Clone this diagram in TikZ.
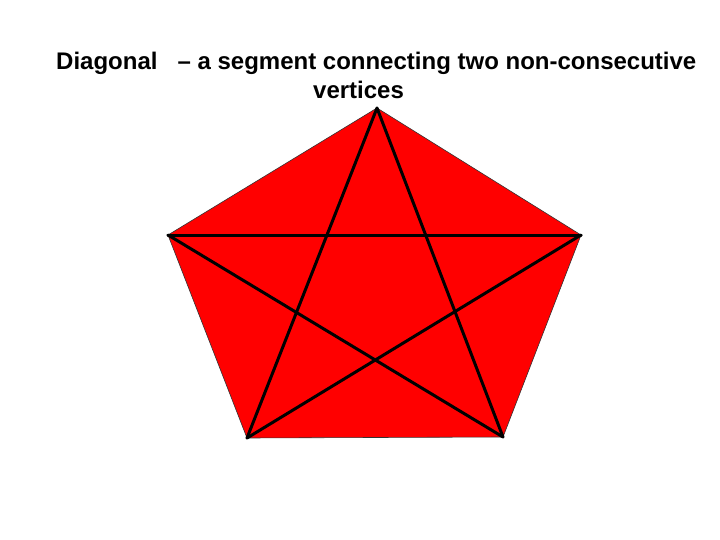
\documentclass[tikz,border=0pt]{standalone}
\usepackage{fontspec}
\setmainfont{Liberation Sans}
\begin{document}
\begin{tikzpicture}[x=1pt,y=-1pt,
  lbl/.style={inner sep=0pt,anchor=base west,font=\fontsize{24}{28}\selectfont\bfseries},
  edge/.style={draw=black!80,line width=0.6pt},
  diag/.style={draw=black,line width=3pt,line cap=round}]
\useasboundingbox (0,0) rectangle (720,540);
\coordinate (A) at (377,108);
\coordinate (B) at (581,235);
\coordinate (C) at (503,437);
\coordinate (D) at (247,438);
\coordinate (E) at (168,235);
\fill[red] (A) -- (B) -- (C) -- (D) -- (E) -- cycle;
\draw[edge] (A) -- (B) -- (C) -- (D) -- (E) -- cycle;
\draw[diag] (A) -- (C);
\draw[diag] (A) -- (D);
\draw[diag] (B) -- (D);
\draw[diag] (B) -- (E);
\draw[diag] (C) -- (E);
\node[lbl] (t1) at (56,70) {Diagonal\ \ \ – a segment connecting two non-consecutive};
\node[lbl] (t2) at (313,99) {vertices};
\end{tikzpicture}
\end{document}
